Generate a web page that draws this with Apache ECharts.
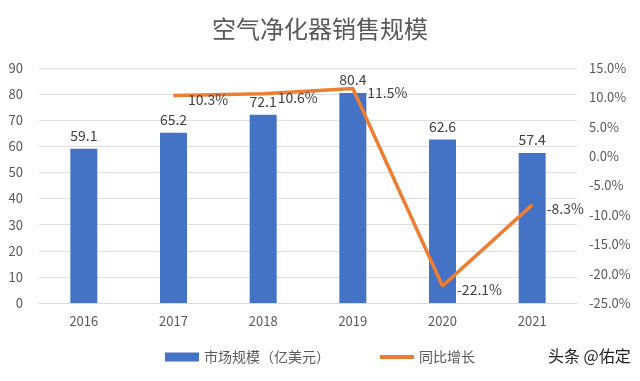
<!DOCTYPE html>
<html><head><meta charset="utf-8">
<script src="https://cdn.jsdelivr.net/npm/echarts@6/dist/echarts.min.js"></script>
<style>html,body{margin:0;padding:0;background:#fff}#c{width:640px;height:381px}</style>
</head><body><div id="c"></div>
<script>
const categories = ['2016','2017','2018','2019','2020','2021'];
const marketSize = [59.1, 65.2, 72.1, 80.4, 62.6, 57.4];
const growth = [null, 10.3, 10.6, 11.5, -22.1, -8.3];
const leftTicks = [0, 90, 10];
const rightTicks = [-25, 15, 5];
const font = '"Noto Sans CJK SC", "Noto Sans", sans-serif';
const chart = echarts.init(document.getElementById('c'));
chart.setOption({
  backgroundColor: '#fff',
  title: { text: '空气净化器销售规模', left: 'center', top: 12,
    textStyle: { fontSize: 24, fontWeight: 'normal', color: '#595959', fontFamily: font } },
  legend: { bottom: 12, left: 'center', itemWidth: 34, itemHeight: 9, itemGap: 50,
    textStyle: { fontSize: 14, color: '#595959', fontFamily: font },
    data: [{ name: '市场规模（亿美元）', icon: 'rect' },
           { name: '同比增长', icon: 'path://M0,0 L34,0 L34,4 L0,4 Z' }] },
  grid: { left: 39, right: 63, top: 68, bottom: 78 },
  xAxis: { type: 'category', data: categories,
    axisLine: { lineStyle: { color: '#d9d9d9' } }, axisTick: { show: false },
    axisLabel: { color: '#595959', fontSize: 13, margin: 12, fontFamily: font } },
  yAxis: [
    { type: 'value', min: leftTicks[0], max: leftTicks[1], interval: leftTicks[2],
      axisLabel: { color: '#595959', fontSize: 13, margin: 16, fontFamily: font },
      splitLine: { lineStyle: { color: '#dedede' } }, axisLine: { show: false } },
    { type: 'value', min: rightTicks[0], max: rightTicks[1], interval: rightTicks[2],
      axisLabel: { color: '#595959', fontSize: 13, margin: 12, fontFamily: font,
        formatter: v => v.toFixed(1) + '%' },
      splitLine: { show: false }, axisLine: { show: false } }
  ],
  series: [
    { name: '市场规模（亿美元）', type: 'bar', data: marketSize, barWidth: 27,
      itemStyle: { color: '#4472C4' },
      label: { show: true, position: 'top', color: '#404040', fontSize: 14, fontFamily: font, distance: 6 } },
    { name: '同比增长', type: 'line', yAxisIndex: 1, data: growth,
      symbol: 'circle', symbolSize: 1, lineStyle: { color: '#ED7D31', width: 3.5 },
      itemStyle: { color: '#ED7D31' },
      label: { show: true, position: 'right', distance: 14, offset: [0, 4], color: '#404040', fontSize: 14, fontFamily: font,
        formatter: p => p.value.toFixed(1) + '%' } }
  ],
  graphic: [{ type: 'text', left: 548, top: 348,
    style: { text: '头条 @佑定', fill: '#222', fontSize: 16, fontFamily: font } }],
  animation: false
});
</script></body></html>
